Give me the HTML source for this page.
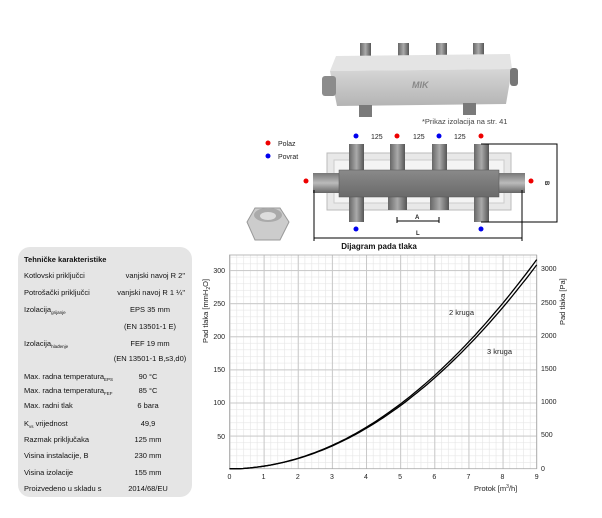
<!DOCTYPE html>
<html><head><meta charset="utf-8"><style>
body{margin:0;background:#fff;width:602px;height:513px;overflow:hidden;font-family:"Liberation Sans",Arial,sans-serif}
svg text{font-family:"Liberation Sans",Arial,sans-serif}
</style></head><body>
<svg width="602" height="513" viewBox="0 0 602 513" xmlns="http://www.w3.org/2000/svg">
<defs>
<linearGradient id="pv" x1="0" x2="1" y1="0" y2="0"><stop offset="0" stop-color="#666"/><stop offset=".5" stop-color="#aaa"/><stop offset="1" stop-color="#555"/></linearGradient>
<linearGradient id="ph" x1="0" x2="0" y1="0" y2="1"><stop offset="0" stop-color="#777"/><stop offset=".5" stop-color="#bbb"/><stop offset="1" stop-color="#666"/></linearGradient>
<linearGradient id="bd" x1="0" x2="0" y1="0" y2="1"><stop offset="0" stop-color="#8a8a8a"/><stop offset="1" stop-color="#6a6a6a"/></linearGradient>
<linearGradient id="fr" x1="0" x2="0" y1="0" y2="1"><stop offset="0" stop-color="#d6d6d6"/><stop offset="1" stop-color="#b4b4b4"/></linearGradient>
<pattern id="minor" patternUnits="userSpaceOnUse" x="229.5" y="468.7" width="6.8267" height="6.62">
<path d="M0.3 0V6.62M0 0.3H6.8267" stroke="#e6e6e6" stroke-width="0.7" fill="none"/></pattern>
<pattern id="major" patternUnits="userSpaceOnUse" x="229.5" y="468.7" width="34.133" height="33.1">
<path d="M0.5 0V33.1M0 0.5H34.133" stroke="#c8c8c8" stroke-width="1" fill="none"/></pattern>
</defs>
<!-- 3D product -->
<g>
<rect x="360" y="43" width="11" height="16" fill="url(#pv)"/><rect x="398" y="43" width="11" height="16" fill="url(#pv)"/><rect x="436" y="43" width="11" height="16" fill="url(#pv)"/><rect x="473" y="43" width="11" height="16" fill="url(#pv)"/>
<polygon points="336,56 510,54 512,69 330,71" fill="#e4e4e4"/>
<polygon points="330,71 512,69 506,104 337,106" fill="url(#fr)"/>
<rect x="322" y="76" width="14" height="20" rx="3" fill="#8c8c8c"/>
<rect x="510" y="68" width="8" height="18" rx="3" fill="#777"/>
<rect x="359" y="105" width="13" height="12" fill="#7a7a7a"/><rect x="463" y="103" width="13" height="12" fill="#7a7a7a"/>
<text x="412" y="88" font-size="9" font-style="italic" font-weight="bold" fill="#888">MIK</text>
</g>
<text x="422" y="124" font-size="7.5" fill="#444">*Prikaz izolacija na str. 41</text>
<!-- legend -->
<circle cx="268" cy="143" r="2.5" fill="#e00"/><text x="278" y="146" font-size="7" fill="#222">Polaz</text>
<circle cx="268" cy="156" r="2.5" fill="#00e"/><text x="278" y="159" font-size="7" fill="#222">Povrat</text>
<!-- front diagram -->
<g font-size="7" fill="#222">
<circle cx="356" cy="136" r="2.5" fill="#00e"/><circle cx="397" cy="136" r="2.5" fill="#e00"/><circle cx="439" cy="136" r="2.5" fill="#00e"/><circle cx="481" cy="136" r="2.5" fill="#e00"/>
<text x="371" y="139">125</text><text x="413" y="139">125</text><text x="454" y="139">125</text>
<rect x="327" y="153" width="184" height="57" fill="#e8e8e8" stroke="#bbb"/>
<rect x="334" y="160" width="170" height="43" fill="#f4f4f4" stroke="#ccc"/>
<rect x="349" y="144" width="15" height="27" fill="url(#pv)"/><rect x="390" y="144" width="15" height="27" fill="url(#pv)"/><rect x="432" y="144" width="15" height="27" fill="url(#pv)"/><rect x="474" y="144" width="15" height="27" fill="url(#pv)"/>
<rect x="349" y="196" width="15" height="26" fill="url(#pv)"/><rect x="474" y="196" width="15" height="26" fill="url(#pv)"/>
<rect x="388" y="196" width="19" height="14" fill="url(#pv)"/><rect x="430" y="196" width="19" height="14" fill="url(#pv)"/>
<rect x="313" y="173" width="27" height="20" fill="url(#ph)"/><rect x="498" y="173" width="27" height="20" fill="url(#ph)"/>
<rect x="339" y="170" width="160" height="27" fill="url(#bd)" stroke="#555" stroke-width=".5"/>
<circle cx="306" cy="181" r="2.5" fill="#e00"/><circle cx="531" cy="181" r="2.5" fill="#e00"/>
<circle cx="356" cy="229" r="2.5" fill="#00e"/><circle cx="481" cy="229" r="2.5" fill="#00e"/>
<path d="M481 144H557V222H481M397 221H439M397 217V223M439 217V223M314 190V241M522 190V241M314 238H522" stroke="#000" stroke-width="1" fill="none"/>
<text x="415" y="219" font-weight="bold" font-size="6">A</text><text x="416" y="235" font-weight="bold" font-size="6">L</text>
<text x="0" y="0" font-weight="bold" font-size="6" transform="translate(545,181) rotate(90)">B</text>
</g>
<!-- nut -->
<polygon points="255,208 280,208 289,222 280,240 255,240 247,222" fill="#ccc" stroke="#999"/>
<ellipse cx="268" cy="215" rx="14" ry="7" fill="#aaa"/><ellipse cx="268" cy="216" rx="8" ry="4" fill="#ddd"/>
<text x="379" y="249" font-size="8" font-weight="bold" text-anchor="middle" fill="#111">Dijagram pada tlaka</text>
<!-- table -->
<rect x="18" y="247" width="174" height="250" rx="12" fill="#e5e5e5"/>
<g font-size="7.5" fill="#111">
<text x="24" y="262" font-weight="bold">Tehničke karakteristike</text>
<text x="24" y="278">Kotlovski priključci</text><text x="185" y="278" text-anchor="end">vanjski navoj R 2"</text>
<text x="24" y="295">Potrošački priključci</text><text x="185" y="295" text-anchor="end">vanjski navoj R 1 ¼"</text>
<text x="24" y="312">Izolacija<tspan font-size="4.5" dy="2">grijanje</tspan></text><text x="150" y="312" text-anchor="middle">EPS 35 mm</text>
<text x="150" y="329" text-anchor="middle">(EN 13501-1 E)</text>
<text x="24" y="346">Izolacija<tspan font-size="4.5" dy="2">hlađenje</tspan></text><text x="150" y="346" text-anchor="middle">FEF 19 mm</text>
<text x="150" y="361" text-anchor="middle">(EN 13501-1 B,s3,d0)</text>
<text x="24" y="379">Max. radna temperatura<tspan font-size="4.5" dy="2">EPS</tspan></text><text x="148" y="379" text-anchor="middle">90 °C</text>
<text x="24" y="393">Max. radna temperatura<tspan font-size="4.5" dy="2">FEF</tspan></text><text x="148" y="393" text-anchor="middle">85 °C</text>
<text x="24" y="408">Max. radni tlak</text><text x="148" y="408" text-anchor="middle">6 bara</text>
<text x="24" y="426">K<tspan font-size="4.5" dy="2">vs</tspan><tspan dy="-2"> vrijednost</tspan></text><text x="148" y="426" text-anchor="middle">49,9</text>
<text x="24" y="442">Razmak priključaka</text><text x="148" y="442" text-anchor="middle">125 mm</text>
<text x="24" y="458">Visina instalacije, B</text><text x="148" y="458" text-anchor="middle">230 mm</text>
<text x="24" y="475">Visina izolacije</text><text x="148" y="475" text-anchor="middle">155 mm</text>
<text x="24" y="491">Proizvedeno u skladu s</text><text x="148" y="491" text-anchor="middle">2014/68/EU</text>
</g>
<!-- chart -->
<rect x="229.5" y="255" width="307.2" height="213.7" fill="url(#minor)"/>
<rect x="229.5" y="255" width="307.2" height="213.7" fill="url(#major)"/>
<path d="M536.7 255V468.7" stroke="#c8c8c8"/>
<rect x="229.5" y="255" width="307.2" height="213.7" fill="none" stroke="#aaa" stroke-width="0.8"/>
<g font-size="7" fill="#222">
<text x="225" y="273" text-anchor="end">300</text><text x="225" y="306" text-anchor="end">250</text><text x="225" y="339" text-anchor="end">200</text><text x="225" y="372" text-anchor="end">150</text><text x="225" y="405" text-anchor="end">100</text><text x="225" y="439" text-anchor="end">50</text>
<text x="541" y="271">3000</text><text x="541" y="305">2500</text><text x="541" y="338">2000</text><text x="541" y="371">1500</text><text x="541" y="404">1000</text><text x="541" y="437">500</text><text x="541" y="471">0</text>
<text x="229.5" y="479" text-anchor="middle">0</text><text x="263.6" y="479" text-anchor="middle">1</text><text x="297.8" y="479" text-anchor="middle">2</text><text x="331.9" y="479" text-anchor="middle">3</text><text x="366" y="479" text-anchor="middle">4</text><text x="400.1" y="479" text-anchor="middle">5</text><text x="434.3" y="479" text-anchor="middle">6</text><text x="468.4" y="479" text-anchor="middle">7</text><text x="502.5" y="479" text-anchor="middle">8</text><text x="536.7" y="479" text-anchor="middle">9</text>
<text x="474" y="491" font-size="7.5">Protok [m<tspan font-size="5" dy="-3">3</tspan><tspan dy="3">/h]</tspan></text>
<text transform="translate(208,343) rotate(-90)" font-size="7.5">Pad tlaka [mmH<tspan font-size="5" dy="2">2</tspan><tspan dy="-2">O]</tspan></text>
<text transform="translate(565,325) rotate(-90)" font-size="7.5">Pad tlaka [Pa]</text>
<text x="449" y="315" font-size="7.5">2 kruga</text>
<text x="487" y="354" font-size="7.5">3 kruga</text>
</g>
<path id="c1" fill="none" stroke="#000" stroke-width="1.3"/>
<path id="c2" fill="none" stroke="#000" stroke-width="1.3"/>
<script>
var L=229.5,B=468.7,ux=307.2/9,uy=0.662;
function curve(k){var d='';for(var q=0;q<=90;q++){var f=q/10,v=k*Math.max(0,f*f-0.25*Math.exp(-f*3));d+=(q?'L':'M')+(L+f*ux).toFixed(1)+' '+(B-v*uy).toFixed(1);}return d;}
document.getElementById('c1').setAttribute('d',curve(3.9));
document.getElementById('c2').setAttribute('d',curve(3.8));
</script>
</svg>
</body></html>
